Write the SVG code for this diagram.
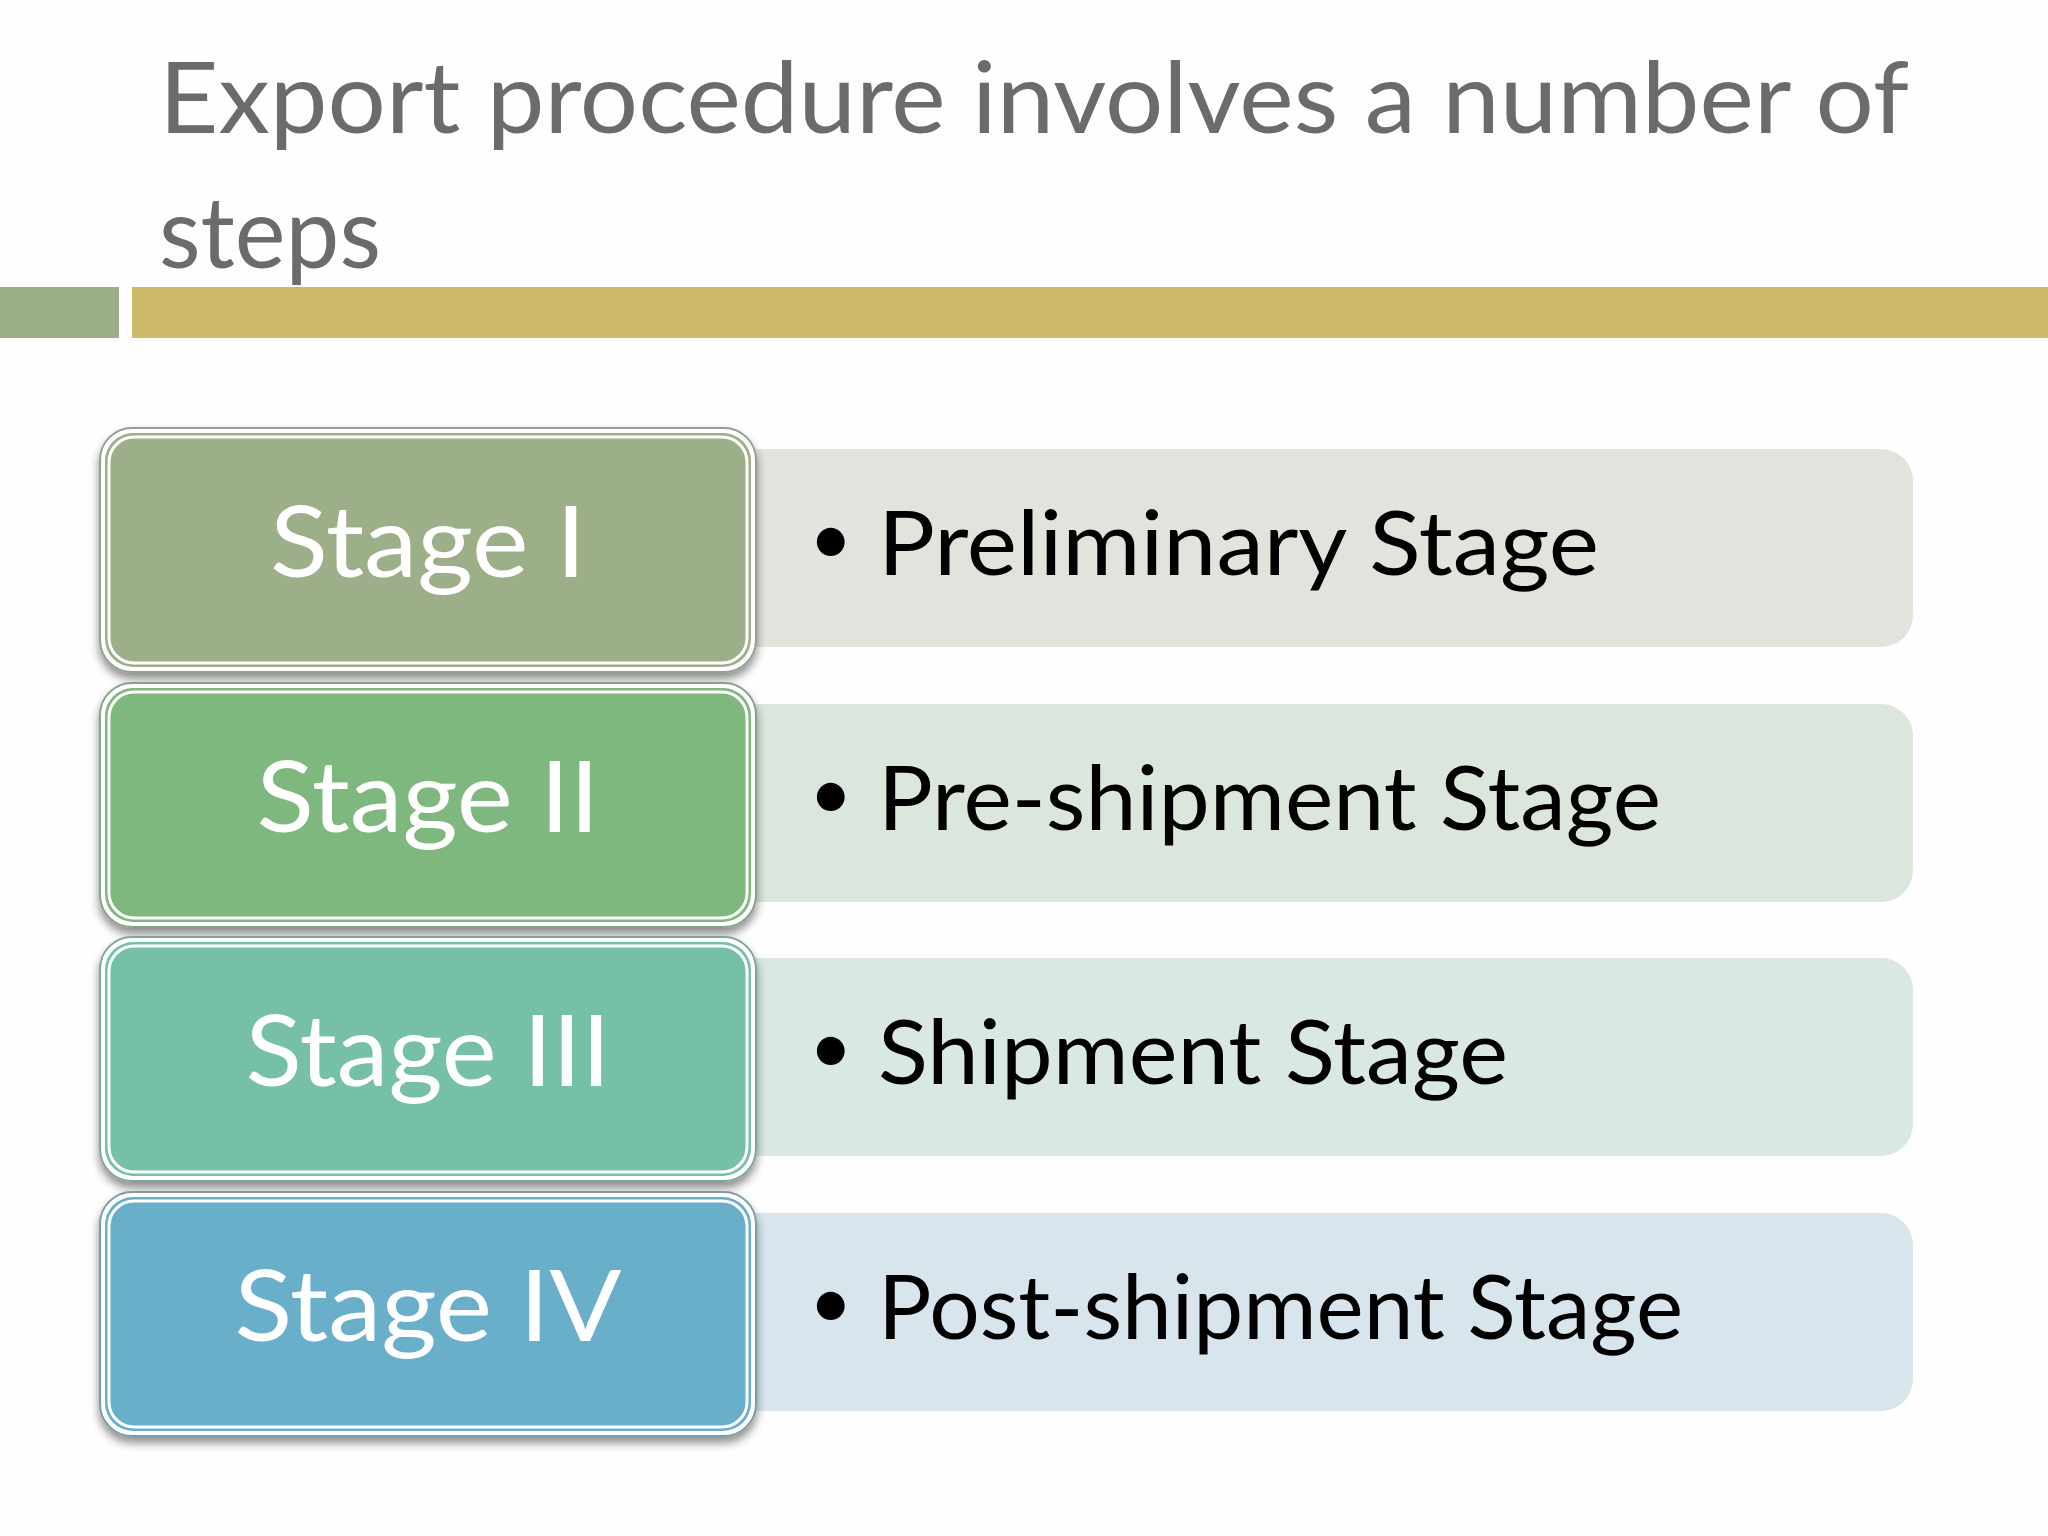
<svg xmlns="http://www.w3.org/2000/svg" width="2048" height="1536" viewBox="0 0 2048 1536">
<defs>
<filter id="sh" x="-10%" y="-10%" width="120%" height="130%">
<feGaussianBlur in="SourceAlpha" stdDeviation="5"/>
<feOffset dx="0" dy="6" result="b"/>
<feComponentTransfer><feFuncA type="linear" slope="0.45"/></feComponentTransfer>
<feMerge><feMergeNode/><feMergeNode in="SourceGraphic"/></feMerge>
</filter>
</defs>
<style>
.title{font-family:Lato,"Liberation Sans",sans-serif;font-size:98px;fill:#6b6b6b}
.stage{font-family:Lato,"Liberation Sans",sans-serif;font-size:98px;fill:#ffffff;text-anchor:middle}
.item{font-family:Lato,"Liberation Sans",sans-serif;font-size:90px;fill:#000000}
.bul{font-family:Lato,"Liberation Sans",sans-serif;font-size:75px;fill:#000000}
.outer{fill:#ffffff;stroke-width:2}
.ring{fill:none;stroke:#ffffff;stroke-width:3}
</style>
<rect width="2048" height="1536" fill="#fefefe"/>
<g id="title">
<text class="title" x="159" y="133" textLength="1750" lengthAdjust="spacingAndGlyphs">Export procedure involves a number of</text>
<text class="title" x="159" y="268" textLength="222" lengthAdjust="spacingAndGlyphs">steps</text>
</g>
<g id="bars">
<rect x="0" y="287" width="119" height="51" fill="#9caf88"/>
<rect x="132" y="287" width="1916" height="51" fill="#cdb96a"/>
</g>
<g id="panels">
<g id="panel1"><rect x="700" y="449" width="1213" height="198" rx="32" fill="#e1e3dc"/>
<text class="bul" x="809" y="564">•</text><text class="item" x="878" y="575" textLength="721" lengthAdjust="spacingAndGlyphs">Preliminary Stage</text></g>
<g id="panel2"><rect x="700" y="704" width="1213" height="198" rx="32" fill="#dbe7dc"/>
<text class="bul" x="809" y="819">•</text><text class="item" x="878" y="830" textLength="783" lengthAdjust="spacingAndGlyphs">Pre-shipment Stage</text></g>
<g id="panel3"><rect x="700" y="958" width="1213" height="198" rx="32" fill="#d9e8e3"/>
<text class="bul" x="809" y="1073">•</text><text class="item" x="878" y="1084" textLength="630" lengthAdjust="spacingAndGlyphs">Shipment Stage</text></g>
<g id="panel4"><rect x="700" y="1213" width="1213" height="198" rx="32" fill="#d8e5ed"/>
<text class="bul" x="809" y="1328">•</text><text class="item" x="878" y="1339" textLength="805" lengthAdjust="spacingAndGlyphs">Post-shipment Stage</text></g>
</g>
<g id="stage1" filter="url(#sh)">
<rect class="outer" x="100" y="428" width="656" height="244" rx="32" stroke="#979f8e"/>
<rect x="105" y="433" width="646" height="234" rx="28" fill="#9caf88"/>
<rect class="ring" x="109" y="437" width="638" height="226" rx="25"/>
<text class="stage" x="428" y="577" textLength="316" lengthAdjust="spacingAndGlyphs">Stage I</text>
</g>
<g id="stage2" filter="url(#sh)">
<rect class="outer" x="100" y="683" width="656" height="244" rx="32" stroke="#86a287"/>
<rect x="105" y="688" width="646" height="234" rx="28" fill="#7eb87f"/>
<rect class="ring" x="109" y="692" width="638" height="226" rx="25"/>
<text class="stage" x="428" y="832" textLength="343" lengthAdjust="spacingAndGlyphs">Stage II</text>
</g>
<g id="stage3" filter="url(#sh)">
<rect class="outer" x="100" y="937" width="656" height="244" rx="32" stroke="#7fa69a"/>
<rect x="105" y="942" width="646" height="234" rx="28" fill="#76c0a8"/>
<rect class="ring" x="109" y="946" width="638" height="226" rx="25"/>
<text class="stage" x="428" y="1086" textLength="365" lengthAdjust="spacingAndGlyphs">Stage III</text>
</g>
<g id="stage4" filter="url(#sh)">
<rect class="outer" x="100" y="1192" width="656" height="244" rx="32" stroke="#7b9ca9"/>
<rect x="105" y="1197" width="646" height="234" rx="28" fill="#6aafca"/>
<rect class="ring" x="109" y="1201" width="638" height="226" rx="25"/>
<text class="stage" x="428" y="1341" textLength="387" lengthAdjust="spacingAndGlyphs">Stage IV</text>
</g>
<g id="connectors"/>
</svg>
